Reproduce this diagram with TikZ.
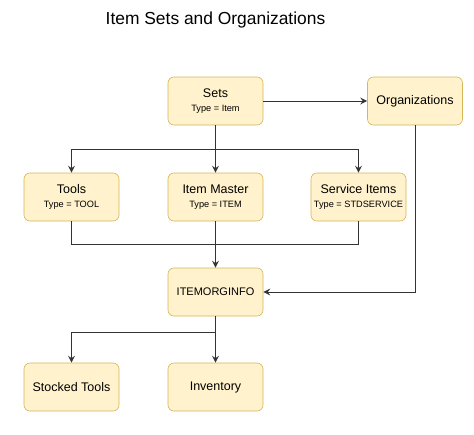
\documentclass[tikz,border=0pt]{standalone}
\usepackage{fontspec}
\setmainfont{Liberation Sans}
\usetikzlibrary{arrows.meta}
\definecolor{boxfill}{HTML}{FFF2CC}
\definecolor{boxline}{HTML}{D6B656}
\definecolor{wire}{HTML}{333333}
\tikzset{
  ent/.style={draw=boxline, fill=boxfill, rounded corners=6pt, minimum width=95pt, minimum height=48pt, inner sep=0pt, align=center, font=\fontsize{12.5}{15}\selectfont, line width=0.6pt},
  conn/.style={draw=wire, line width=0.9pt, -{Stealth[length=7pt,width=7pt,inset=2.5pt]}},
  plain/.style={draw=wire, line width=0.9pt},
}
\newcommand{\sublbl}[1]{\\[-1pt]{\fontsize{9.2}{11}\selectfont #1}}
\begin{document}
\begin{tikzpicture}[x=1pt,y=-1pt]
\useasboundingbox (0,0) rectangle (474,434);
\node[font=\fontsize{17.4}{20}\selectfont] (title) at (215.5,20) {Item Sets and Organizations};
\node[ent] (sets) at (215.5,101) {Sets\sublbl{Type = Item}};
\node[ent] (org) at (415,101) {Organizations};
\node[ent] (tools) at (71.5,197) {Tools\sublbl{Type = TOOL}};
\node[ent] (im) at (215.5,197) {Item Master\sublbl{Type = ITEM}};
\node[ent] (svc) at (358.5,197) {Service Items\sublbl{Type = STDSERVICE}};
\node[ent, font=\fontsize{11}{13}\selectfont] (ioi) at (215.5,292) {ITEMORGINFO};
\node[ent] (stk) at (71.5,387) {Stocked Tools};
\node[ent] (inv) at (215.5,387) {Inventory};
\coordinate (b1) at (215.5,149);
\coordinate (b2) at (215.5,244);
\coordinate (b3) at (215.5,332);
\draw[conn] (sets) -- (org);
\draw[conn] (sets) -- (im);
\draw[conn] (b1) -| (tools);
\draw[conn] (b1) -| (svc);
\draw[conn] (im) -- (ioi);
\draw[plain] (tools) |- (b2);
\draw[plain] (svc) |- (b2);
\draw[conn] (org) |- (ioi);
\draw[conn] (ioi) -- (inv);
\draw[conn] (b3) -| (stk);
\end{tikzpicture}
\end{document}
